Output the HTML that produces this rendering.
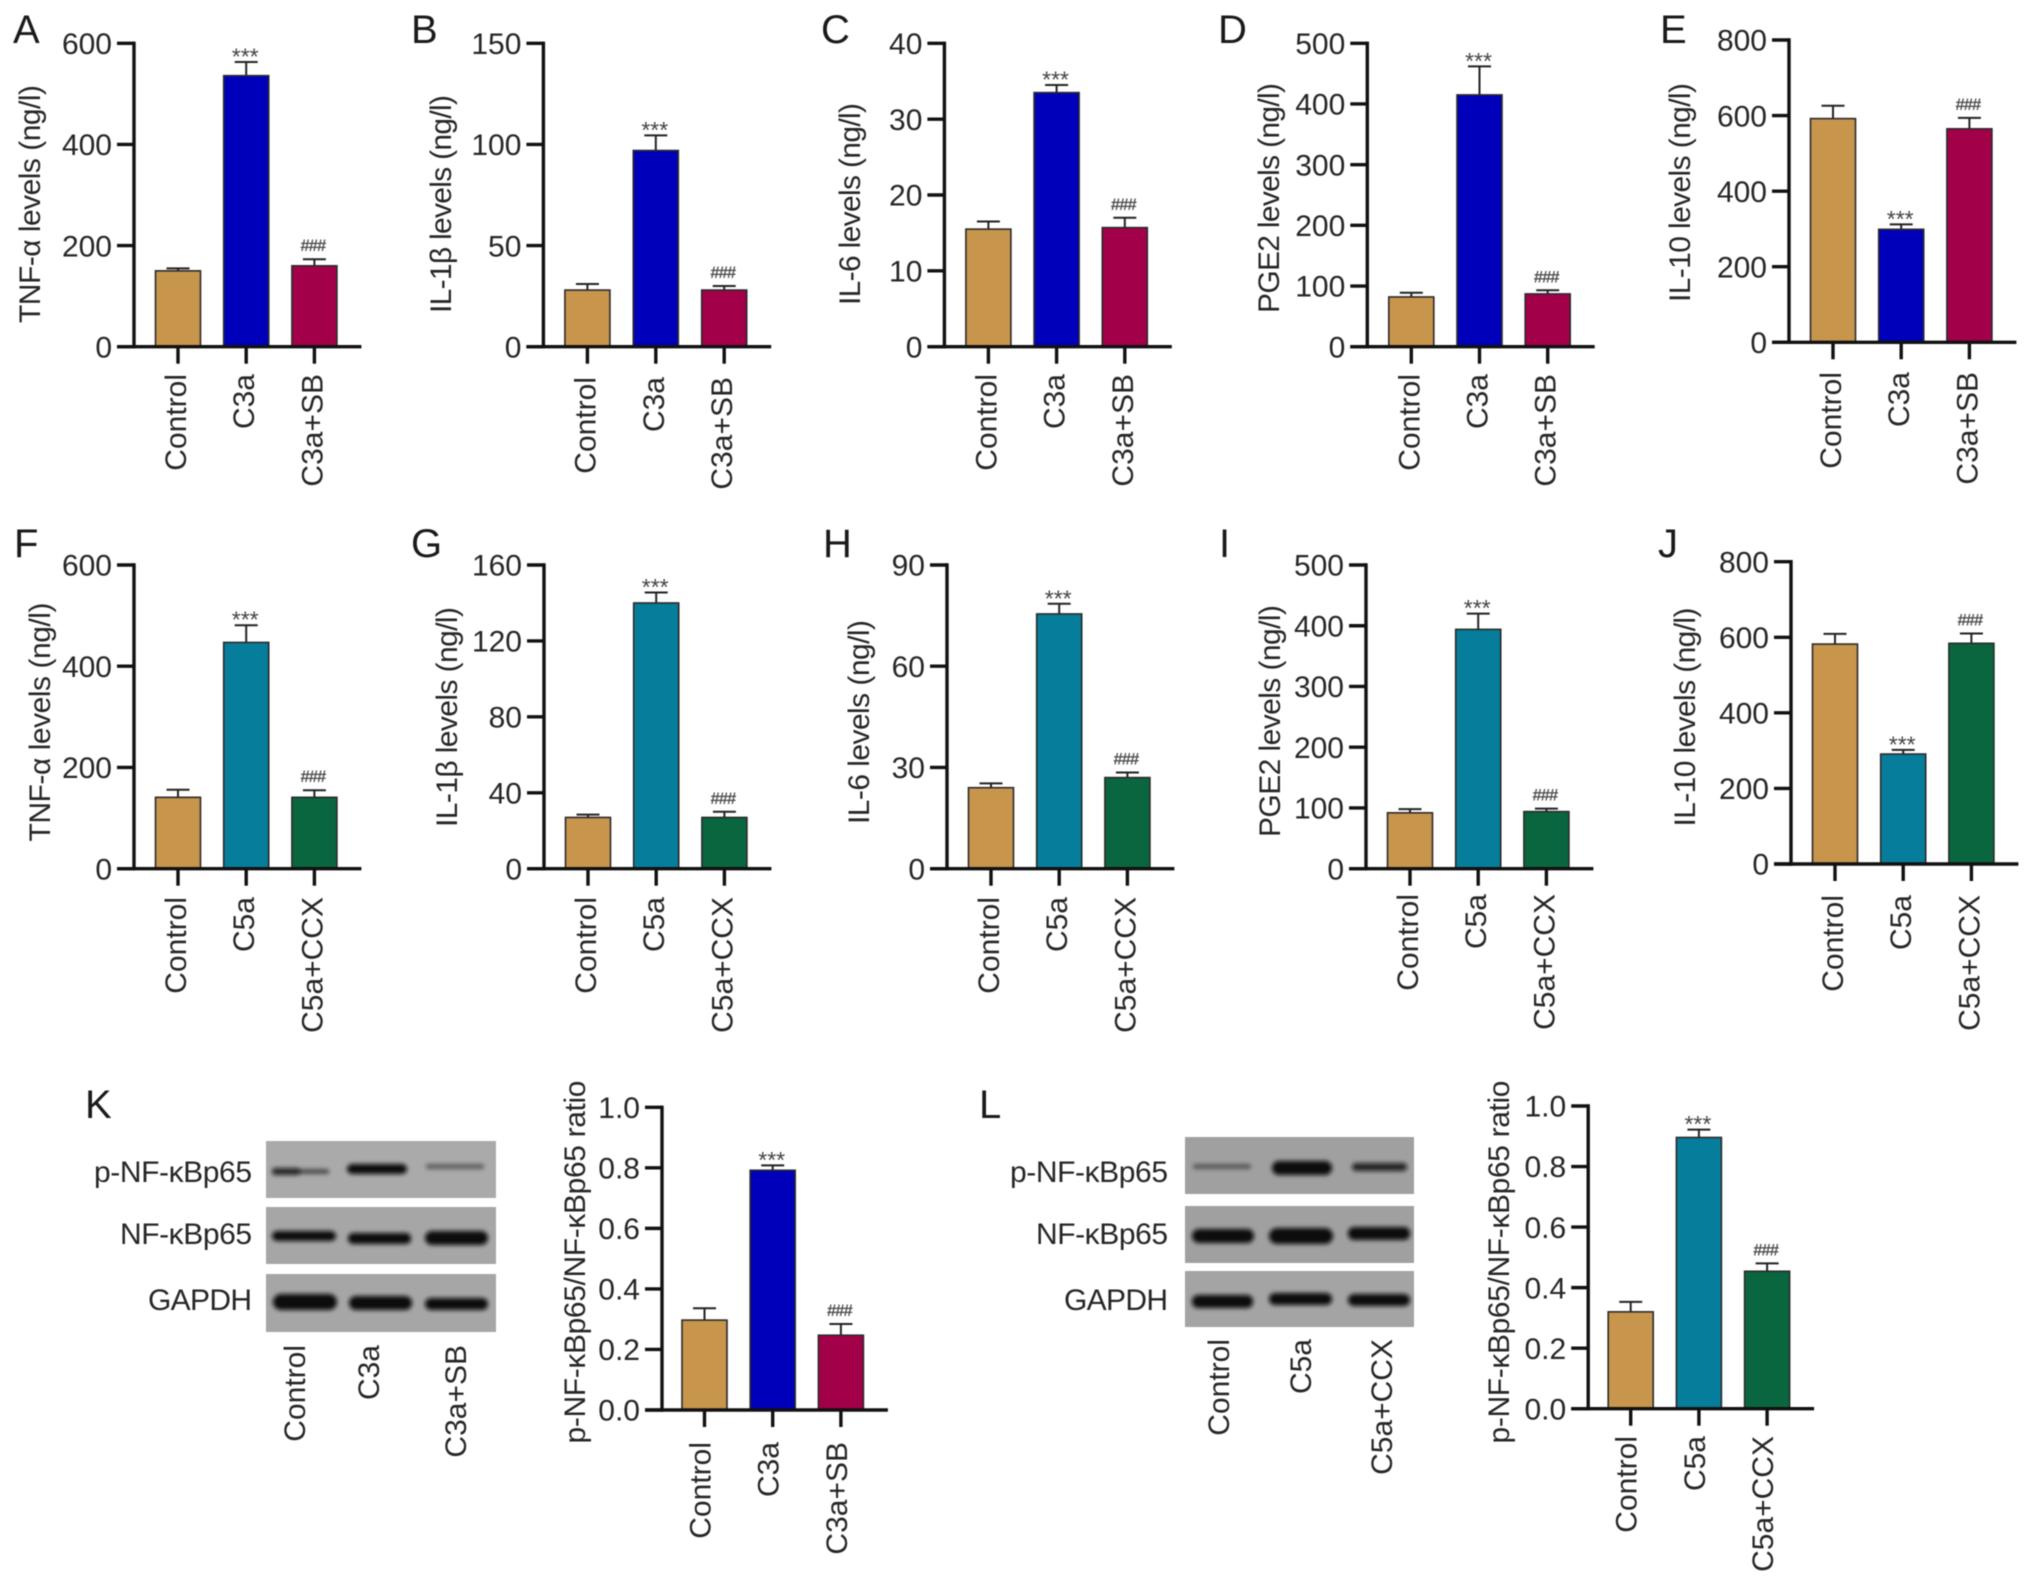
<!DOCTYPE html>
<html lang="en">
<head>
<meta charset="utf-8">
<title>Cytokine levels and NF-κB p65 phosphorylation</title>
<style>
  html, body { margin: 0; padding: 0; background: #fff; }
  body { width: 2032px; height: 1579px; overflow: hidden; }
  #figure { display: block; filter: blur(0.55px); }
  text { font-family: "Liberation Sans", Arial, sans-serif; fill: #262626; }
</style>
</head>
<body>
<svg id="figure" xmlns="http://www.w3.org/2000/svg" width="2032" height="1579" viewBox="0 0 2032 1579">
  <defs>
    <filter id="bandBlur" x="-20%" y="-150%" width="140%" height="400%"><feGaussianBlur stdDeviation="2"/></filter>
  </defs>

  <g>
    <rect x="266" y="1141" width="230" height="57" fill="#aaaaaa"/>
    <rect x="266" y="1207" width="230" height="57" fill="#a6a6a6"/>
    <rect x="266" y="1274" width="230" height="58" fill="#a6a6a6"/>
    <g filter="url(#bandBlur)" fill="#0a0a0a">
      <rect x="272" y="1168" width="28" height="7" rx="3" opacity="0.85"/>
      <rect x="297" y="1169" width="32" height="5" rx="2" opacity="0.55"/>
      <rect x="347" y="1164" width="60" height="10" rx="5"/>
      <rect x="426" y="1164" width="58" height="5" rx="2" opacity="0.45"/>
      <rect x="272" y="1231" width="64" height="10" rx="5"/>
      <rect x="348" y="1233" width="63" height="11" rx="5"/>
      <rect x="425" y="1231" width="63" height="14" rx="7"/>
      <rect x="273" y="1294" width="64" height="16" rx="8"/>
      <rect x="349" y="1296" width="63" height="14" rx="7"/>
      <rect x="425" y="1298" width="63" height="12" rx="6"/>
    </g>
  </g>

  <g>
    <rect x="1185" y="1137" width="229" height="57" fill="#a0a0a0"/>
    <rect x="1185" y="1206" width="229" height="57" fill="#a0a0a0"/>
    <rect x="1185" y="1271" width="229" height="56" fill="#a4a4a4"/>
    <g filter="url(#bandBlur)" fill="#0a0a0a">
      <rect x="1193" y="1164" width="58" height="5" rx="2" opacity="0.45"/>
      <rect x="1272" y="1161" width="60" height="14" rx="7"/>
      <rect x="1352" y="1163" width="55" height="8" rx="4" opacity="0.85"/>
      <rect x="1192" y="1229" width="62" height="14" rx="7"/>
      <rect x="1269" y="1228" width="64" height="16" rx="8"/>
      <rect x="1348" y="1227" width="62" height="13" rx="6"/>
      <rect x="1192" y="1295" width="61" height="13" rx="6"/>
      <rect x="1269" y="1293" width="63" height="12" rx="6"/>
      <rect x="1348" y="1294" width="62" height="12" rx="6"/>
    </g>
  </g>

  <g font-size="30" text-anchor="end">
    <text x="252" y="1182" textLength="158">p-NF-κBp65</text>
    <text x="252" y="1244" textLength="132">NF-κBp65</text>
    <text x="252" y="1310" textLength="104">GAPDH</text>
    <text transform="translate(305 1345) rotate(-90)">Control</text>
    <text transform="translate(379 1345) rotate(-90)">C3a</text>
    <text transform="translate(466 1345) rotate(-90)">C3a+SB</text>
  </g>
  <g font-size="30" text-anchor="end">
    <text x="1168" y="1182" textLength="158">p-NF-κBp65</text>
    <text x="1168" y="1244" textLength="132">NF-κBp65</text>
    <text x="1168" y="1310" textLength="104">GAPDH</text>
    <text transform="translate(1229 1339) rotate(-90)">Control</text>
    <text transform="translate(1311 1339) rotate(-90)">C5a</text>
    <text transform="translate(1392 1339) rotate(-90)">C5a+CCX</text>
  </g>

  <g id="charts"></g>
</svg>

<script>
// Categories
const categoriesC3a = ['Control', 'C3a', 'C3a+SB'];
const categoriesC5a = ['Control', 'C5a', 'C5a+CCX'];

// Bar values and SEM-style error heights per panel
const valuesA = [150, 536, 160];
const errorsA = [5, 27, 13];
const ticksA = ['0', '200', '400', '600'];

const valuesB = [28, 97, 28];
const errorsB = [3, 7.5, 2];
const ticksB = ['0', '50', '100', '150'];

const valuesC = [15.5, 33.5, 15.7];
const errorsC = [1, 1, 1.3];
const ticksC = ['0', '10', '20', '30', '40'];

const valuesD = [82, 415, 87];
const errorsD = [7, 47, 6];
const ticksD = ['0', '100', '200', '300', '400', '500'];

const valuesE = [592, 299, 565];
const errorsE = [34, 13, 29];
const ticksE = ['0', '200', '400', '600', '800'];

const valuesF = [141, 447, 141];
const errorsF = [15, 34, 14];
const ticksF = ['0', '200', '400', '600'];

const valuesG = [27, 140, 27];
const errorsG = [1.5, 5.5, 3];
const ticksG = ['0', '40', '80', '120', '160'];

const valuesH = [24, 75.5, 27];
const errorsH = [1.3, 3, 1.5];
const ticksH = ['0', '30', '60', '90'];

const valuesI = [92, 394, 94];
const errorsI = [6, 26, 5];
const ticksI = ['0', '100', '200', '300', '400', '500'];

const valuesJ = [582, 291, 584];
const errorsJ = [27, 11, 26];
const ticksJ = ['0', '200', '400', '600', '800'];

const valuesK = [0.297, 0.792, 0.247];
const errorsK = [0.039, 0.016, 0.037];
const ticksK = ['0.0', '0.2', '0.4', '0.6', '0.8', '1.0'];

const valuesL = [0.32, 0.896, 0.454];
const errorsL = [0.033, 0.026, 0.026];
const ticksL = ['0.0', '0.2', '0.4', '0.6', '0.8', '1.0'];

// Fill colours
const colorsC3a = ['#c8954d', '#0000bb', '#a3004a'];
const colorsC5a = ['#c8954d', '#067e9b', '#09663f'];

// Panel frames (plot geometry only)
const panels = [
  {id:'a', letter:'A', lx:13,   ly:43,  title:'TNF-α levels (ng/l)', tlen:238, tx:40,   tm:204, ax:134,  top:43.3, bot:346.7, off:44, step:68.2, cy:374, lab:8, cats:categoriesC3a, colors:colorsC3a, values:valuesA, errors:errorsA, ticks:ticksA},
  {id:'b', letter:'B', lx:411,  ly:43,  title:'IL-1β levels (ng/l)', tlen:218, tx:451,  tm:204, ax:543.4,top:43.3, bot:346.7, off:44, step:68.4, cy:377, lab:8, cats:categoriesC3a, colors:colorsC3a, values:valuesB, errors:errorsB, ticks:ticksB},
  {id:'c', letter:'C', lx:821,  ly:43,  title:'IL-6 levels (ng/l)',  tlen:202, tx:860,  tm:204, ax:944.4,top:43.3, bot:346.7, off:44, step:68.2, cy:374, lab:8, cats:categoriesC3a, colors:colorsC3a, values:valuesC, errors:errorsC, ticks:ticksC},
  {id:'d', letter:'D', lx:1218, ly:43,  title:'PGE2 levels (ng/l)',  tlen:230, tx:1279, tm:198, ax:1367.3,top:43.3,bot:346.7, off:44, step:68.2, cy:374, lab:8, cats:categoriesC3a, colors:colorsC3a, values:valuesD, errors:errorsD, ticks:ticksD},
  {id:'e', letter:'E', lx:1660, ly:43,  title:'IL-10 levels (ng/l)', tlen:219, tx:1690, tm:192.5,ax:1789, top:40,   bot:342.3, off:44, step:68.2, cy:372, lab:8, cats:categoriesC3a, colors:colorsC3a, values:valuesE, errors:errorsE, ticks:ticksE},
  {id:'f', letter:'F', lx:14,   ly:557, title:'TNF-α levels (ng/l)', tlen:239, tx:50,   tm:722, ax:134,  top:565,  bot:868.7, off:44, step:68.2, cy:897, lab:8, cats:categoriesC5a, colors:colorsC5a, values:valuesF, errors:errorsF, ticks:ticksF},
  {id:'g', letter:'G', lx:411,  ly:557, title:'IL-1β levels (ng/l)', tlen:220, tx:457,  tm:717, ax:544,  top:565,  bot:868.7, off:44, step:68.2, cy:897, lab:8, cats:categoriesC5a, colors:colorsC5a, values:valuesG, errors:errorsG, ticks:ticksG},
  {id:'h', letter:'H', lx:823,  ly:557, title:'IL-6 levels (ng/l)',  tlen:204, tx:869,  tm:722, ax:947,  top:565,  bot:868.7, off:44, step:68.2, cy:897, lab:8, cats:categoriesC5a, colors:colorsC5a, values:valuesH, errors:errorsH, ticks:ticksH},
  {id:'i', letter:'I', lx:1219, ly:557, title:'PGE2 levels (ng/l)',  tlen:232, tx:1280, tm:721, ax:1366, top:565,  bot:868.7, off:44, step:68.2, cy:894, lab:8, cats:categoriesC5a, colors:colorsC5a, values:valuesI, errors:errorsI, ticks:ticksI},
  {id:'j', letter:'J', lx:1658, ly:557, title:'IL-10 levels (ng/l)', tlen:219, tx:1695, tm:717, ax:1791, top:561.7,bot:864,   off:44, step:68.2, cy:895, lab:8, cats:categoriesC5a, colors:colorsC5a, values:valuesJ, errors:errorsJ, ticks:ticksJ},
  {id:'k', letter:'K', lx:85,   ly:1118,title:'p-NF-κBp65/NF-κBp65 ratio', tlen:363, tx:585, tm:1262, ax:662,top:1107.3,bot:1410, off:42.5, step:68.2, cy:1442, lab:6, cats:categoriesC3a, colors:colorsC3a, values:valuesK, errors:errorsK, ticks:ticksK},
  {id:'l', letter:'L', lx:979,  ly:1118,title:'p-NF-κBp65/NF-κBp65 ratio', tlen:363, tx:1509,tm:1262, ax:1588.2,top:1106,bot:1408.7, off:42.5, step:68.2, cy:1436, lab:6, cats:categoriesC5a, colors:colorsC5a, values:valuesL, errors:errorsL, ticks:ticksL}
];

const SVG_NS = 'http://www.w3.org/2000/svg';
const chartsRoot = document.getElementById('charts');

function make(parent, tag, attrs, text) {
  const el = document.createElementNS(SVG_NS, tag);
  for (const key in attrs) el.setAttribute(key, attrs[key]);
  if (text !== undefined) el.textContent = text;
  parent.appendChild(el);
  return el;
}

function drawLine(parent, x1, y1, x2, y2, color, width) {
  return make(parent, 'line', {x1: x1, y1: y1, x2: x2, y2: y2, stroke: color, 'stroke-width': width});
}

function drawPanel(p) {
  const maxTick = Number(p.ticks[p.ticks.length - 1]);
  const yScale = function (v) { return p.bot - (v / maxTick) * (p.bot - p.top); };
  const xScale = function (i) { return p.ax + p.off + p.step * i; };
  const right = xScale(p.cats.length - 1) + 47;
  const barWidth = 45;
  const capWidth = 23;

  const group = make(chartsRoot, 'g', {});
  
  

  const letter = make(group, 'text', {x: p.lx, y: p.ly, 'font-size': 40, style: 'fill:#1a1a1a'}, p.letter);
  
  

  const title = make(group, 'text', {
    transform: 'translate(' + p.tx + ' ' + p.tm + ') rotate(-90)',
    'text-anchor': 'middle', 'font-size': 30, textLength: p.tlen
  }, p.title);
  
  

  p.values.forEach(function (value, i) {
    const cx = xScale(i);
    const yTop = yScale(value);
    const yErr = yScale(value + p.errors[i]);

    const errStem = drawLine(group, cx, yTop, cx, yErr, '#222', 2);
    
    
    const errCap = drawLine(group, cx - capWidth / 2, yErr, cx + capWidth / 2, yErr, '#222', 2);
    
    

    const bar = make(group, 'rect', {
      x: cx - barWidth / 2, y: yTop, width: barWidth, height: p.bot - yTop,
      fill: p.colors[i], stroke: '#2a2a2a', 'stroke-width': 1.6
    });
    
    

    if (i === 1) {
      const stars = make(group, 'text', {
        x: cx - 1, y: yErr + 2.5, 'text-anchor': 'middle', 'font-size': 23, style: 'fill:#444'
      }, '***');
      
      
    }
    if (i === 2) {
      const hashes = make(group, 'text', {
        x: cx - 1, y: yErr - 8, 'text-anchor': 'middle', 'font-size': 17, 'font-weight': 'bold',
        textLength: 26, style: 'fill:#4a4a4a'
      }, '###');
      
      
    }

    const xTick = drawLine(group, cx, p.bot, cx, p.bot + 17, '#111', 3.4);
    
    

    const catLabel = make(group, 'text', {
      transform: 'translate(' + (cx + p.lab) + ' ' + p.cy + ') rotate(-90)',
      'text-anchor': 'end', 'font-size': 30
    }, p.cats[i]);
    
    
  });

  p.ticks.forEach(function (label, i) {
    const y = yScale(Number(label));
    const tick = drawLine(group, p.ax - 17, y, p.ax, y, '#111', 3.4);
    
    
    const tickLabel = make(group, 'text', {x: p.ax - 22, y: y + 10.7, 'text-anchor': 'end', 'font-size': 30}, label);
    
    
  });

  const yAxis = drawLine(group, p.ax, p.top - 1.7, p.ax, p.bot + 1.7, '#111', 3.4);
  
  
  const xAxis = drawLine(group, p.ax - 17, p.bot, right, p.bot, '#111', 3.4);
  
  
}

panels.forEach(drawPanel);
</script>
</body>
</html>
